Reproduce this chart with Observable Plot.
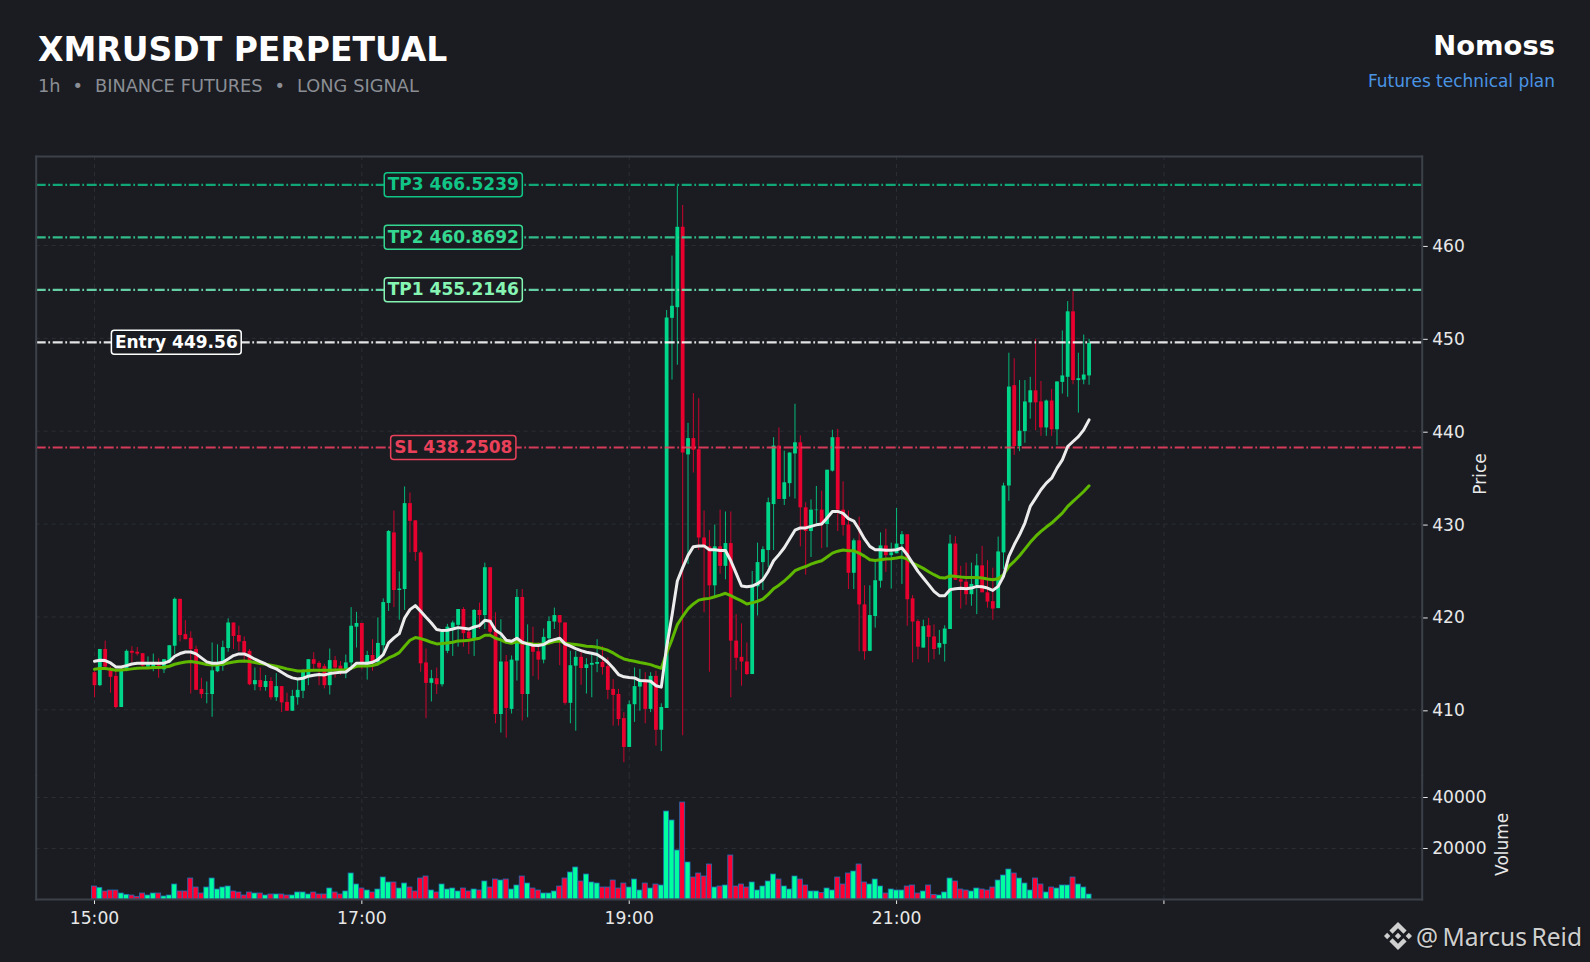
<!DOCTYPE html>
<html><head><meta charset="utf-8">
<script src="https://cdn.jsdelivr.net/npm/d3@7"></script>
<script src="https://cdn.jsdelivr.net/npm/@observablehq/plot@0.6"></script>
<style>
html,body{margin:0;padding:0;background:#1a1c21;width:1590px;height:962px;overflow:hidden;font-family:"DejaVu Sans",sans-serif}
#head{position:relative;height:156px}
#title{position:absolute;left:38px;top:30px;font-size:33px;font-weight:700;color:#fff;white-space:nowrap}
#sub{position:absolute;left:38px;top:76px;font-size:17.75px;color:#8b8e94;white-space:pre;word-spacing:.35px}
#brand{position:absolute;right:35px;top:30px;font-size:27.4px;font-weight:700;color:#fff}
#tag{position:absolute;right:35px;top:71px;font-size:16.95px;color:#4a94e4}
#mark{position:absolute;left:1384px;top:922px;height:28px;display:flex;align-items:center;color:#cfcfcf;font-family:"Noto Sans",sans-serif;font-size:24.6px;word-spacing:-2px;white-space:nowrap;text-shadow:1px 1px 1px #0006}
#mark svg{width:28px;height:28px;margin-right:4px}
</style></head><body>
<div id="head">
<div id="title">XMRUSDT PERPETUAL</div>
<div id="sub">1h  •  BINANCE FUTURES  •  LONG SIGNAL</div>
<div id="brand">Nomoss</div>
<div id="tag">Futures technical plan</div>
</div>
<div id="chart"></div>
<div id="mark"><svg viewBox="0 0 126.61 126.61"><path fill="#cfcfcf" d="M38.73 53.2l24.59-24.58 24.6 24.6 14.3-14.31L63.32 0 24.42 38.9zM0 63.31l14.3-14.31 14.31 14.31-14.31 14.3zM38.73 73.41l24.59 24.59 24.6-24.6 14.31 14.29-38.9 38.91-38.91-38.88zM98 63.31l14.3-14.31 14.31 14.3-14.31 14.32zM77.83 63.3L63.32 48.78 52.59 59.51l-1.24 1.23-2.54 2.54 14.51 14.5 14.51-14.47z"/></svg><span>@ Marcus Reid</span></div>
<script>
const opens=[414,412.6,416.5,414.3,413.6,410.25,414.2,416.3,416.2,416.05,
414.6,414.5,415,414.3,415.05,416.85,421.9,418.1,417.7,416.5,
412.2,411.65,411.65,414.1,414.7,416.6,419.35,418,417.35,416.3,
412.7,413.15,412.4,413.05,411.3,412.5,410.8,409.85,411.3,412,
413.6,415.4,415,414.65,412.6,415.3,414.7,414,415.05,418.9,
419.3,414.7,415.85,415.05,416.9,421.45,429.05,422.85,422.95,432.2,
430.35,426.9,415.05,412.85,413.35,412.7,416.3,418.8,419.1,420.8,
418.35,417.65,420.7,420.15,425.3,418.35,409.5,415.15,410.05,415.25,
422.1,411.65,417,416.25,415.35,417.65,419.45,420.15,419.35,410.7,
414.7,415.65,414.45,414.8,414.9,415.1,414.65,412.2,411.65,409.05,
405.95,410.55,412.45,413.2,410.05,413.6,407.8,410.15,452.15,453.3,
461.95,437.45,439.2,438,428.5,427.55,423.35,427.55,425.45,427.9,
417.4,415.65,415.15,413.8,423.25,425.85,427.15,432.1,438.4,432.65,
434.35,437.55,438.75,431.75,429.2,431.45,431.5,429.95,435.7,439.3,
431.5,429.9,424.7,428.2,421.3,416.3,420.05,423.85,427.65,426.6,
426.8,427.8,428.85,421.95,419.5,416.65,419.05,417.85,416.65,417.05,
418.65,427.85,424,423.75,422.4,423.4,425.5,422.6,421.65,420.9,
426.9,434.1,444.9,438.35,439.95,443.05,444.35,443.15,440.35,443.25,
440.15,445.25,445.8,452.85,445.45,445.5,445.95];
const closes=[412.6,416.5,414.6,413.5,410.25,414.3,416.3,416.1,416,414.7,
414.9,414.9,414.7,415.4,416.9,421.9,418,417.55,416.5,412.1,
411.65,411.7,414.2,414.7,416.7,419.35,417.9,417.3,416.1,412.7,
413.15,412.4,413.05,411.3,412.5,410.75,409.85,411.45,412.1,414.15,
415.4,414.9,414.5,412.6,415.3,414.5,414.3,415.05,419,419.3,
415.05,415.85,415.05,417.15,421.55,429.2,422.85,423,432.2,430.3,
426.95,414.95,412.85,413.35,412.7,418.35,418.9,419.35,420.8,418.2,
417.65,420.7,420.15,425.3,418.35,409.5,415.15,410.15,415.35,422.1,
411.65,417,416.2,415.35,417.8,419.5,420.15,419.35,410.7,414.75,
415.65,414.45,414.85,415,415.1,414.55,412.1,411.55,408.95,405.95,
410.55,412.5,413.2,410.05,413.6,407.8,410.25,452.2,453.45,461.95,
437.65,439.2,437.95,428.5,427.55,423.35,427.55,425.45,427.9,417.4,
415.55,415.15,413.8,423.25,425.85,427.25,432.3,438.4,432.65,434.45,
437.65,438.75,431.75,429.2,431.5,431.5,430,435.8,439.3,431.5,
429.85,424.7,428.2,421.3,416.25,420.15,423.9,427.65,426.6,426.9,
427.85,428.85,421.85,419.45,416.75,418.95,417.8,416.5,417.15,418.7,
427.85,423.95,423.75,422.4,423.5,425.5,422.6,421.6,420.85,427,
434.1,444.75,438.35,440,443.15,444.35,443.05,440.35,443.25,440.15,
445.3,445.95,452.85,445.45,445.65,446.05,449.45];
const highs=[414.1,416.5,417.4,414.6,414.4,414.5,416.45,416.8,416.7,416.05,
415.7,416,415.5,415.4,416.9,422.05,421.9,419.6,418.4,416.85,
413.4,413,417.2,417,417.4,419.8,419.35,419,417.85,416.5,
414.5,414.5,413.7,413.45,413.9,412.5,411.8,412.1,413.25,414.35,
415.4,416.15,415.2,414.9,416.55,415.75,415.2,415.9,421,420.5,
419.3,416.3,417.55,419.9,421.95,429.3,431.4,424.85,434,433.35,
430.35,427.1,416.55,414.25,414.5,418.35,419.2,419.55,420.8,421,
418.8,420.8,421.5,425.8,425.3,420.45,419.7,415.85,415.8,422.95,
422.95,419.15,418.9,417.2,418.7,420,420.95,420.15,419.35,416.3,
416.3,416.5,415.5,416.15,417.55,416.8,415.6,413.25,412.2,409.7,
410.95,414.5,414.35,414,414,414.15,410.65,453,458.85,466.35,
464.3,440.85,444.05,443.5,431.4,429.3,429.9,431.5,431.3,431.3,
420.25,419.25,417.2,424.9,427.95,427.55,432.8,439.3,440.35,437.85,
437.65,442.9,439.5,432.3,432.6,434.05,433.55,435.8,440.1,440.2,
434.55,431.4,428.4,430.75,423.35,423.35,426.15,429.05,429.45,427.95,
431.7,429.2,428.85,422.3,419.7,419.65,419.85,419.15,418.55,419.05,
428.8,428.65,425.45,425.8,425.8,426.75,427.6,426.05,425.25,428.6,
434.4,448.4,447.8,445.45,445.45,445.8,449.9,445.35,443.35,444.5,
445.3,450.8,453.95,455,448.4,450.35,449.9];
const lows=[411.3,412.5,414.5,411.8,410.1,410.25,414.1,415.1,415.8,414.6,
414.5,414.1,413.4,413.9,415,415.95,417.3,417.55,411.7,412.1,
411.2,410.65,409.2,414,414.15,416.2,416.5,416.3,415.2,412.6,
412.05,412,412,411.05,410.9,409.7,409.85,409.85,410.5,411.2,
412.6,414.35,412.6,412.25,411.6,413.4,413.7,413.35,414.35,416.65,
414.35,413.2,414.15,414.7,416.1,420.6,421,419.65,420.7,426.9,
426,414.05,409.05,410.85,411.65,412.45,416.05,415.75,416.75,416.75,
415.95,415.75,418.65,418.65,417.9,408.5,407.5,406.95,409.55,413.1,
408.8,409.15,413.6,413.2,414.95,417,418.65,414.75,410.5,408.5,
407.7,412.65,411.7,411.3,414,413.75,411.1,408.25,408.25,404.3,
405.95,408.65,409.85,408.5,409.7,406.1,405.5,410.15,445.5,447.1,
407.2,425.65,435.5,427.15,420.45,414.05,422.2,424.6,424,411.3,
414.2,412.55,413.7,413.8,420.1,422.85,425.3,427.15,432.65,432,
432.9,432.7,427.55,424.5,426.4,430.05,427.35,427.45,435.6,429.2,
428.7,422.95,422.95,416.25,415.35,416.25,418.8,423.1,424.8,423,
426.8,423.5,419,415.05,415.4,416.65,415.05,415.4,415.9,415.15,
418.65,423.95,420.85,421.25,421.15,420.25,422.6,420.95,419.65,420.9,
425.1,432.45,437.4,437.8,438.7,441.3,440.05,439.45,439.45,439.45,
438.45,444,443.65,445,441.95,445,444.95];
const volumes=[5100,4570,3140,3530,3530,2350,1830,1570,1050,2350,
1570,2350,2350,1180,1570,5880,3140,3140,8230,4700,
2350,4700,8230,3920,4700,5100,3140,2750,1570,2750,
2350,2350,1570,1960,1960,1960,1570,1570,2750,2750,
1960,2750,1960,1960,4310,2750,1960,3140,10200,5880,
4310,3530,2750,3920,8630,6670,6670,4310,6270,4700,
3140,8230,9020,3530,2750,5880,3920,4310,3140,4310,
3140,3920,3530,7060,4700,7840,7450,7840,3920,5490,
9020,6270,4310,3530,2350,2350,3140,5100,8230,10590,
12550,7060,9800,6670,6270,4700,4700,7450,4310,6270,
4700,7840,3530,6270,4310,5880,5490,34500,30980,19210,
38030,14510,8630,10200,9020,13720,4700,5100,5490,17250,
5100,5880,4700,6670,3530,5100,7060,9800,7840,5100,
3920,9020,7840,5490,3140,3140,2610,4310,3530,8630,
5880,10200,10980,13720,6670,5880,7840,5100,2350,3920,
3530,3530,5100,5490,2350,3140,5490,1830,1570,2750,
8230,7060,3920,3530,3140,4310,3920,3530,4700,7450,
9410,11760,10200,8230,6270,3530,8230,5880,2750,4700,
4310,5490,5490,8630,5880,4700,1960];
const fastMA=[415.23,415.34,415.3,415.05,414.62,414.62,414.76,414.94,415.02,415.02,
415.02,415.02,415.02,415.02,415.23,415.77,416.06,416.23,416.23,416.02,
415.59,415.16,415.02,415.02,415.12,415.48,415.84,416.02,416.02,415.77,
415.45,415.2,414.94,414.62,414.41,414.05,413.69,413.44,413.33,413.4,
413.62,413.73,413.8,413.76,413.9,413.98,414.05,414.08,414.51,415.02,
415.02,415.02,415.12,415.41,415.95,417.2,417.74,418.2,419.89,420.79,
421.22,420.61,419.96,419.35,418.64,418.53,418.57,418.7,418.85,418.78,
418.7,418.92,419.07,419.64,419.53,418.57,418.2,417.49,417.38,417.71,
417.27,417.1,416.95,416.92,417.03,417.38,417.56,417.71,417.1,416.85,
416.59,416.38,416.2,416.09,415.95,415.59,415.12,414.51,413.8,413.55,
413.48,413.44,413.15,413.12,413.08,412.6,412.44,416.8,420.16,423.87,
425.31,426.63,427.57,427.65,427.65,427.24,427.24,427.16,427.16,426.05,
424.69,423.33,423.25,423.33,423.58,424,424.9,426.05,426.71,427.45,
428.4,429.34,429.59,429.59,429.75,429.92,430,430.66,431.36,431.36,
431.15,430.58,430.33,429.42,428.4,427.6,427.24,427.24,427.17,427.17,
427.24,427.42,426.7,425.8,424.91,424.19,423.48,422.76,422.29,422.29,
422.94,423.04,423.08,423.04,423.11,423.29,423.26,423.11,422.86,423.29,
424.37,426.52,427.77,428.85,430.11,431.9,432.79,433.69,434.41,434.94,
436.02,436.91,438.35,438.89,439.42,440.14,441.22];
const slowMA=[414.37,414.44,414.44,414.37,414.26,414.3,414.33,414.41,414.48,414.51,
414.51,414.55,414.55,414.59,414.69,414.91,415.05,415.16,415.2,415.12,
415.02,414.87,414.84,414.84,414.91,415.05,415.16,415.23,415.27,415.2,
415.09,414.98,414.91,414.8,414.69,414.55,414.41,414.3,414.19,414.19,
414.23,414.26,414.26,414.26,414.26,414.3,414.3,414.3,414.48,414.69,
414.73,414.73,414.77,414.94,415.23,415.59,415.84,416.16,416.84,417.49,
417.78,417.67,417.49,417.27,417.1,417.13,417.2,417.27,417.42,417.45,
417.49,417.6,417.71,418.03,418.03,417.71,417.53,417.27,417.16,417.35,
417.2,417.16,417.1,417.06,417.06,417.2,417.35,417.42,417.16,417.1,
417.03,416.95,416.85,416.81,416.74,416.59,416.41,416.13,415.77,415.48,
415.34,415.23,415.09,414.98,414.87,414.66,414.48,416.13,417.56,419.18,
420.07,420.86,421.4,421.81,421.93,422,422.18,422.35,422.55,422.3,
422,421.73,421.4,421.52,421.69,421.93,422.43,423.04,423.42,423.87,
424.4,424.98,425.23,425.43,425.68,425.89,426.05,426.46,426.87,427.08,
427.2,427.12,427.12,426.87,426.55,426.16,426.09,426.16,426.23,426.27,
426.34,426.45,426.23,425.8,425.52,425.23,424.87,424.55,424.26,424.19,
424.41,424.37,424.3,424.26,424.26,424.26,424.19,424.08,424,424.12,
424.55,425.44,425.98,426.59,427.3,428.03,428.67,429.21,429.68,430.11,
430.65,431.18,431.9,432.44,432.97,433.51,434.12];

const levelNames=["TP3","TP2","TP1","Entry","SL"];
const levelPrices=[466.5239,460.8692,455.2146,449.56,438.2508];
const levelTexts=["TP3 466.5239","TP2 460.8692","TP1 455.2146","Entry 449.56","SL 438.2508"];
const lineColors=["#10b981","#34d399","#6ee7b7","#ffffff","#ef4060"];
const labelColors=["#10c585","#34d890","#86f5b4","#ffffff","#ea4059"];
const levelLabelBars=[67.1,67.1,67.1,15.3,67.1];
const priceTicks=[410,420,430,440,450,460];
const volumeTicks=[20000,40000];
const timeTicks=[0,50,100,150,200];
const timeLabels=["15:00","17:00","19:00","21:00",""];

const bars=opens.map((o,i)=>({i,o,c:closes[i],h:highs[i],l:lows[i],v:volumes[i],fast:fastMA[i],slow:slowMA[i],up:closes[i]>=o}));
const levels=levelNames.map((n,k)=>({n,p:levelPrices[k],t:levelTexts[k],col:lineColors[k],lab:labelColors[k],at:levelLabelBars[k]}));

const upCol="#00d68a",downCol="#e8002f",gridCol="#2b2e34",frameCol="#3c4048",textCol="#e8e8e8";
const W=1590,ML=35.7,MR=168.3;
const xScale={domain:[-10.9,248.3],range:[ML,W-MR]};
const base={width:W,marginLeft:ML,marginRight:MR,marginTop:0,
  x:xScale,
  style:{background:"transparent",color:textCol,fontFamily:"'DejaVu Sans',sans-serif",fontSize:"17.1px",overflow:"visible"}};

const price=Plot.plot({...base,height:619,marginBottom:0,
  y:{domain:[402.93,469.575]},
  marks:[
    Plot.ruleY(priceTicks,{stroke:gridCol,strokeDasharray:"4,4"}),
    Plot.ruleX(timeTicks,{stroke:gridCol,strokeDasharray:"4,4"}),
    Plot.ruleX(bars,{x:"i",y1:"l",y2:"h",stroke:d=>d.up?upCol:downCol,strokeWidth:1,strokeOpacity:.85}),
    Plot.ruleX(bars,{x:"i",y1:"o",y2:"c",stroke:d=>d.up?upCol:downCol,strokeWidth:3.8}),
    Plot.ruleY(levels,{y:"p",stroke:"col",strokeWidth:2.1,strokeOpacity:.88,strokeDasharray:"10,2.6,1.8,2.6"}),
    Plot.line(bars,{x:"i",y:"slow",stroke:"#5fb800",strokeWidth:3}),
    Plot.line(bars,{x:"i",y:"fast",stroke:"#ececec",strokeWidth:3}),
    Plot.text(levels,{x:"at",y:"p",text:"t",fill:"lab",fontWeight:700,fontSize:17}),
    Plot.text(["Price"],{y:()=>435.4,frameAnchor:"right",textAnchor:"middle",dx:58,rotate:-90,fill:textCol,fontSize:17}),
    Plot.axisY({anchor:"right",ticks:priceTicks,tickSize:5,tickPadding:5,label:null,stroke:textCol,fill:textCol,dy:1}),
    Plot.axisX({ticks:[],label:null}),
    Plot.frame({anchor:"top",stroke:frameCol,strokeWidth:2}),
    Plot.frame({anchor:"left",stroke:frameCol,strokeWidth:2}),
    Plot.frame({anchor:"right",stroke:frameCol,strokeWidth:2})
  ]});

const volume=Plot.plot({...base,height:187,marginBottom:63,
  y:{domain:[0,48630]},
  marks:[
    Plot.ruleY(volumeTicks,{stroke:gridCol,strokeDasharray:"4,4"}),
    Plot.ruleX(timeTicks,{stroke:gridCol,strokeDasharray:"4,4"}),
    Plot.rect(bars,{x1:d=>d.i-.47,x2:d=>d.i+.47,y1:()=>0,y2:"v",fill:d=>d.up?"#00ff9f":"#ff0033",stroke:"#1f6fb4",strokeWidth:.8}),
    Plot.text(["Volume"],{y:()=>21650,frameAnchor:"right",textAnchor:"middle",dx:80,rotate:-90,fill:textCol,fontSize:17}),
    Plot.axisY({anchor:"right",ticks:volumeTicks,tickSize:5,tickPadding:5,label:null,tickFormat:d=>String(d),stroke:textCol,fill:textCol}),
    Plot.axisX({ticks:timeTicks,tickSize:5,tickPadding:7,label:null,fontSize:17.2,tickFormat:d=>timeLabels[timeTicks.indexOf(d)],stroke:textCol,fill:textCol}),
    Plot.frame({anchor:"left",stroke:frameCol,strokeWidth:2}),
    Plot.frame({anchor:"right",stroke:frameCol,strokeWidth:2}),
    Plot.frame({anchor:"bottom",stroke:frameCol,strokeWidth:2})
  ]});

const host=document.getElementById("chart");
host.append(price,volume);
price.querySelectorAll('text').forEach(t=>{
  if(!levelTexts.includes(t.textContent)) return;
  const b=t.getBBox();
  const r=document.createElementNS("http://www.w3.org/2000/svg","rect");
  const px=3.5,py=2;
  r.setAttribute("x",b.x-px);r.setAttribute("y",b.y-py+.5);
  r.setAttribute("width",b.width+2*px);r.setAttribute("height",b.height+2*py);
  r.setAttribute("rx",3);r.setAttribute("fill","#1a1c21");
  r.setAttribute("stroke",t.getAttribute("fill")||getComputedStyle(t).fill);r.setAttribute("stroke-width",1.5);
  const tr=t.getAttribute("transform"); if(tr) r.setAttribute("transform",tr);
  t.parentNode.insertBefore(r,t);
});
</script>
</body></html>
